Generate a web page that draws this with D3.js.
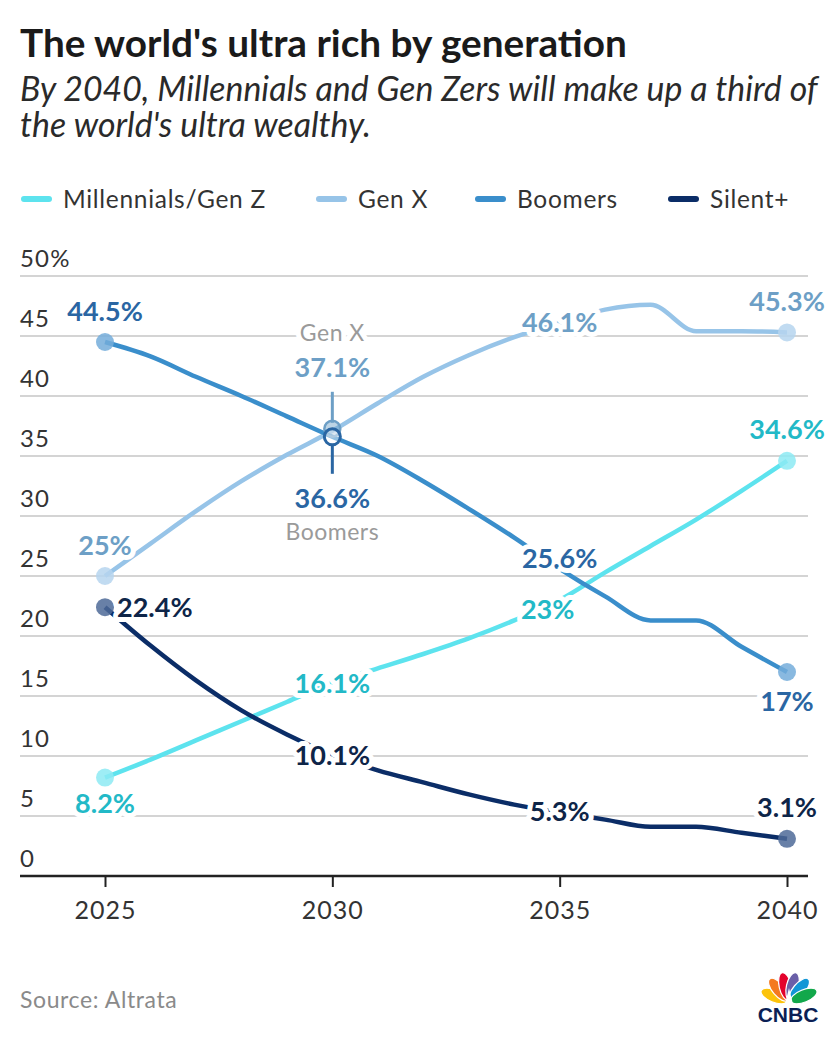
<!DOCTYPE html>
<html><head><meta charset="utf-8">
<script src="https://cdn.jsdelivr.net/npm/d3@7"></script>
<style>body{margin:0;background:#fff} svg{display:block}</style>
</head><body><svg id="c" width="840" height="1052"></svg>
<script>
// ---------- data ----------
const years = [2025,2026,2027,2028,2029,2030,2031,2032,2033,2034,2035,2036,2037,2038,2039,2040];
const millennials = [8.2, 9.7, 11.3, 12.9, 14.5, 16.1, 17.3, 18.5, 19.8, 21.3, 23, 25.3, 27.5, 29.7, 32.1, 34.6];
const genX        = [25, 27.7, 30.4, 32.9, 35.1, 37.1, 39.4, 41.6, 43.4, 44.9, 46.1, 47.2, 47.6, 45.4, 45.4, 45.3];
const boomers     = [44.5, 43.3, 41.6, 40.0, 38.3, 36.6, 35.0, 32.9, 30.6, 28.2, 25.6, 23.3, 21.3, 21.3, 19.1, 17];
const silent      = [22.4, 19.2, 16.3, 13.8, 11.8, 10.1, 8.8, 7.8, 6.8, 5.95, 5.3, 4.7, 4.1, 4.1, 3.6, 3.1];
const seriesNames = ["Millennials/Gen Z", "Gen X", "Boomers", "Silent+"];
const labelYears = [2025, 2030, 2035, 2040];
const yTicks = [0, 5, 10, 15, 20, 25, 30, 35, 40, 45, 50];
const xTicks = [2025, 2030, 2035, 2040];
const title = "The world's ultra rich by generation";
const subtitle = ["By 2040, Millennials and Gen Zers will make up a third of", "the world's ultra wealthy."];
const source = "Source: Altrata";

// ---------- styles ----------
const lineColors  = ["#5de3ee", "#97c4e8", "#3a8ecb", "#0b2d67"];
const dotColors   = ["#8deaf3", "#b6d5ef", "#74addb", "#4d6a98"];
const labelColors = ["#22b9c7", "#6d9fc6", "#2a66a3", "#0e2548"];
// label placement per series per labelled year: [dx, dy(center), anchor]; null = special annotation
const labelPos = [
  [[0, 26, "middle"], [0, 0, "middle"], [-12, 9, "middle"], [0, -32, "middle"]],
  [[0, -31, "middle"], null, [0, -1, "middle"], [0, -31, "middle"]],
  [[0, -31, "middle"], null, [0, -11, "middle"], [0, 29, "middle"]],
  [[12, 0, "start"], [0, 0, "middle"], [0, -1, "middle"], [0, -32, "middle"]]
];
const FONT = "Lato, 'Open Sans', sans-serif";

const svg = d3.select("#c");
const x = d3.scaleLinear().domain([2025, 2040]).range([105, 787]);
const y = d3.scaleLinear().domain([0, 50]).range([876, 276]);
const data = [millennials, genX, boomers, silent];

function fit(sel, target) {
  const len = sel.node().getComputedTextLength();
  const fs = parseFloat(sel.attr("font-size"));
  const nfs = fs * target / len;
  sel.attr("font-size", nfs);
  return nfs;
}

// title
const t = svg.append("text").attr("x", 20).attr("y", 57).attr("font-family", FONT)
  .attr("font-weight", 700).attr("font-size", 32).attr("fill", "#1a1a1a").text(title);
fit(t, 607);
const s1 = svg.append("text").attr("x", 20).attr("y", 101).attr("font-family", FONT)
  .attr("font-style", "italic").attr("font-weight", 400).attr("font-size", 26).attr("fill", "#2a2a2a").text(subtitle[0]);
const sfs = fit(s1, 798);
svg.append("text").attr("x", 20).attr("y", 137).attr("font-family", FONT)
  .attr("font-style", "italic").attr("font-weight", 400).attr("font-size", sfs).attr("fill", "#2a2a2a").text(subtitle[1]);

// legend
const legX = [21, 316, 475, 668];
seriesNames.forEach((n, i) => {
  const g = svg.append("g").attr("transform", `translate(${legX[i]},199)`);
  g.append("line").attr("x1", 3).attr("x2", 28).attr("y1", 0).attr("y2", 0)
    .attr("stroke", lineColors[i]).attr("stroke-width", 6).attr("stroke-linecap", "round");
  g.append("text").attr("x", 42).attr("y", 0).attr("dy", "0.36em").attr("font-family", FONT)
    .attr("font-size", 24.5).attr("letter-spacing", 0.7).attr("fill", "#333").text(n);
});

// gridlines + y labels
const grid = svg.append("g");
yTicks.forEach(v => {
  if (v > 0) grid.append("line").attr("x1", 20).attr("x2", 808).attr("y1", y(v)).attr("y2", y(v))
    .attr("stroke", "#d4d4d4").attr("stroke-width", 2);
  grid.append("text").attr("x", 20).attr("y", y(v) - 9).attr("font-family", FONT)
    .attr("font-size", 24).attr("letter-spacing", 1.2).attr("fill", "#333").text(v === 50 ? "50%" : v);
});

// x axis
const xa = svg.append("g").attr("transform", "translate(0,876)")
  .call(d3.axisBottom(x).tickValues(xTicks).tickFormat(d3.format("d")).tickSize(11).tickPadding(14));
xa.select(".domain").remove();
xa.selectAll(".tick line").attr("stroke", "#222").attr("stroke-width", 2);
xa.selectAll(".tick text").attr("font-family", FONT).attr("font-size", 25).attr("letter-spacing", 1)
  .attr("fill", "#333");
svg.append("line").attr("x1", 20).attr("x2", 808).attr("y1", 876).attr("y2", 876)
  .attr("stroke", "#222").attr("stroke-width", 2.5);

// lines
const line = d3.line().x((d, i) => x(years[i])).y(d => y(d)).curve(d3.curveMonotoneX);
data.forEach((arr, i) => {
  svg.append("path").attr("d", line(arr)).attr("fill", "none")
    .attr("stroke", lineColors[i]).attr("stroke-width", 4.5).attr("stroke-linejoin", "round");
});

// end dots
data.forEach((arr, i) => {
  [0, arr.length - 1].forEach(k => {
    svg.append("circle").attr("cx", x(years[k])).attr("cy", y(arr[k])).attr("r", 9)
      .attr("fill", dotColors[i]).attr("fill-opacity", 0.85);
  });
});

// labels
const lab = svg.append("g");
data.forEach((arr, i) => {
  labelYears.forEach((yr, j) => {
    const p = labelPos[i][j];
    if (!p) return;
    const k = years.indexOf(yr);
    lab.append("text").attr("x", x(yr) + p[0]).attr("y", y(arr[k]) + p[1]).attr("dy", "0.36em")
      .attr("text-anchor", p[2]).attr("font-family", FONT).attr("font-weight", 700).attr("font-size", 27)
      .attr("fill", labelColors[i]).attr("stroke", "#fff").attr("stroke-width", 10)
      .attr("stroke-linejoin", "round").attr("paint-order", "stroke").text(arr[k] + "%");
  });
});

// 2030 crossover annotation
(function () {
  const k = years.indexOf(2030);
  const cx = x(2030), gy = y(genX[k]), by = y(boomers[k]);
  const a = svg.append("g");
  a.append("line").attr("x1", cx).attr("x2", cx).attr("y1", gy - 39).attr("y2", gy - 8)
    .attr("stroke", labelColors[1]).attr("stroke-width", 3);
  a.append("line").attr("x1", cx).attr("x2", cx).attr("y1", by + 8).attr("y2", by + 37)
    .attr("stroke", labelColors[2]).attr("stroke-width", 3);
  a.append("circle").attr("cx", cx).attr("cy", gy - 2).attr("r", 8)
    .attr("fill", labelColors[1]).attr("fill-opacity", 0.45).attr("stroke", labelColors[1]).attr("stroke-width", 2.5);
  a.append("circle").attr("cx", cx).attr("cy", by).attr("r", 8)
    .attr("fill", "#fff").attr("fill-opacity", 0.45).attr("stroke", labelColors[2]).attr("stroke-width", 3);
  const txt = (ty, str, col, bold) => a.append("text").attr("x", cx).attr("y", ty).attr("dy", "0.36em")
    .attr("text-anchor", "middle").attr("font-family", FONT).attr("font-weight", bold ? 700 : 400)
    .attr("font-size", bold ? 27 : 23).attr("letter-spacing", bold ? 0 : 0.5).attr("fill", col)
    .attr("stroke", "#fff").attr("stroke-width", 10)
    .attr("stroke-linejoin", "round").attr("paint-order", "stroke").text(str);
  txt(gy - 98, "Gen X", "#9a9a9a", false);
  txt(gy - 64, genX[k] + "%", labelColors[1], true);
  txt(by + 61, boomers[k] + "%", labelColors[2], true);
  txt(by + 95, "Boomers", "#9a9a9a", false);
})();

// source
svg.append("text").attr("x", 20).attr("y", 1008).attr("font-family", FONT).attr("font-size", 23)
  .attr("letter-spacing", 0.6).attr("fill", "#8a8a8a").text(source);

// CNBC logo
(function () {
  const g = svg.append("g").attr("transform", "translate(789,1002)");
  const petals = [["#fcc30b", -68], ["#f47920", -40], ["#e3022c", -13], ["#6a5fa8", 13], ["#1196d6", 40], ["#12a84b", 68]];
  petals.forEach(([c, a]) => {
    g.append("ellipse").attr("cx", 0).attr("cy", -16).attr("rx", 6.2).attr("ry", 14)
      .attr("transform", `rotate(${a})`).attr("fill", c).attr("stroke", "#fff").attr("stroke-width", 1.2);
  });
  g.append("path").attr("d", "M-4,2 L0,-14 L4,2 Z").attr("fill", "#fff");
  svg.append("text").attr("x", 788).attr("y", 1022).attr("text-anchor", "middle")
    .attr("font-family", "'Liberation Sans', Arial, sans-serif").attr("font-weight", 700)
    .attr("font-size", 21).attr("fill", "#0b1f55").text("CNBC");
})();
</script></body></html>
